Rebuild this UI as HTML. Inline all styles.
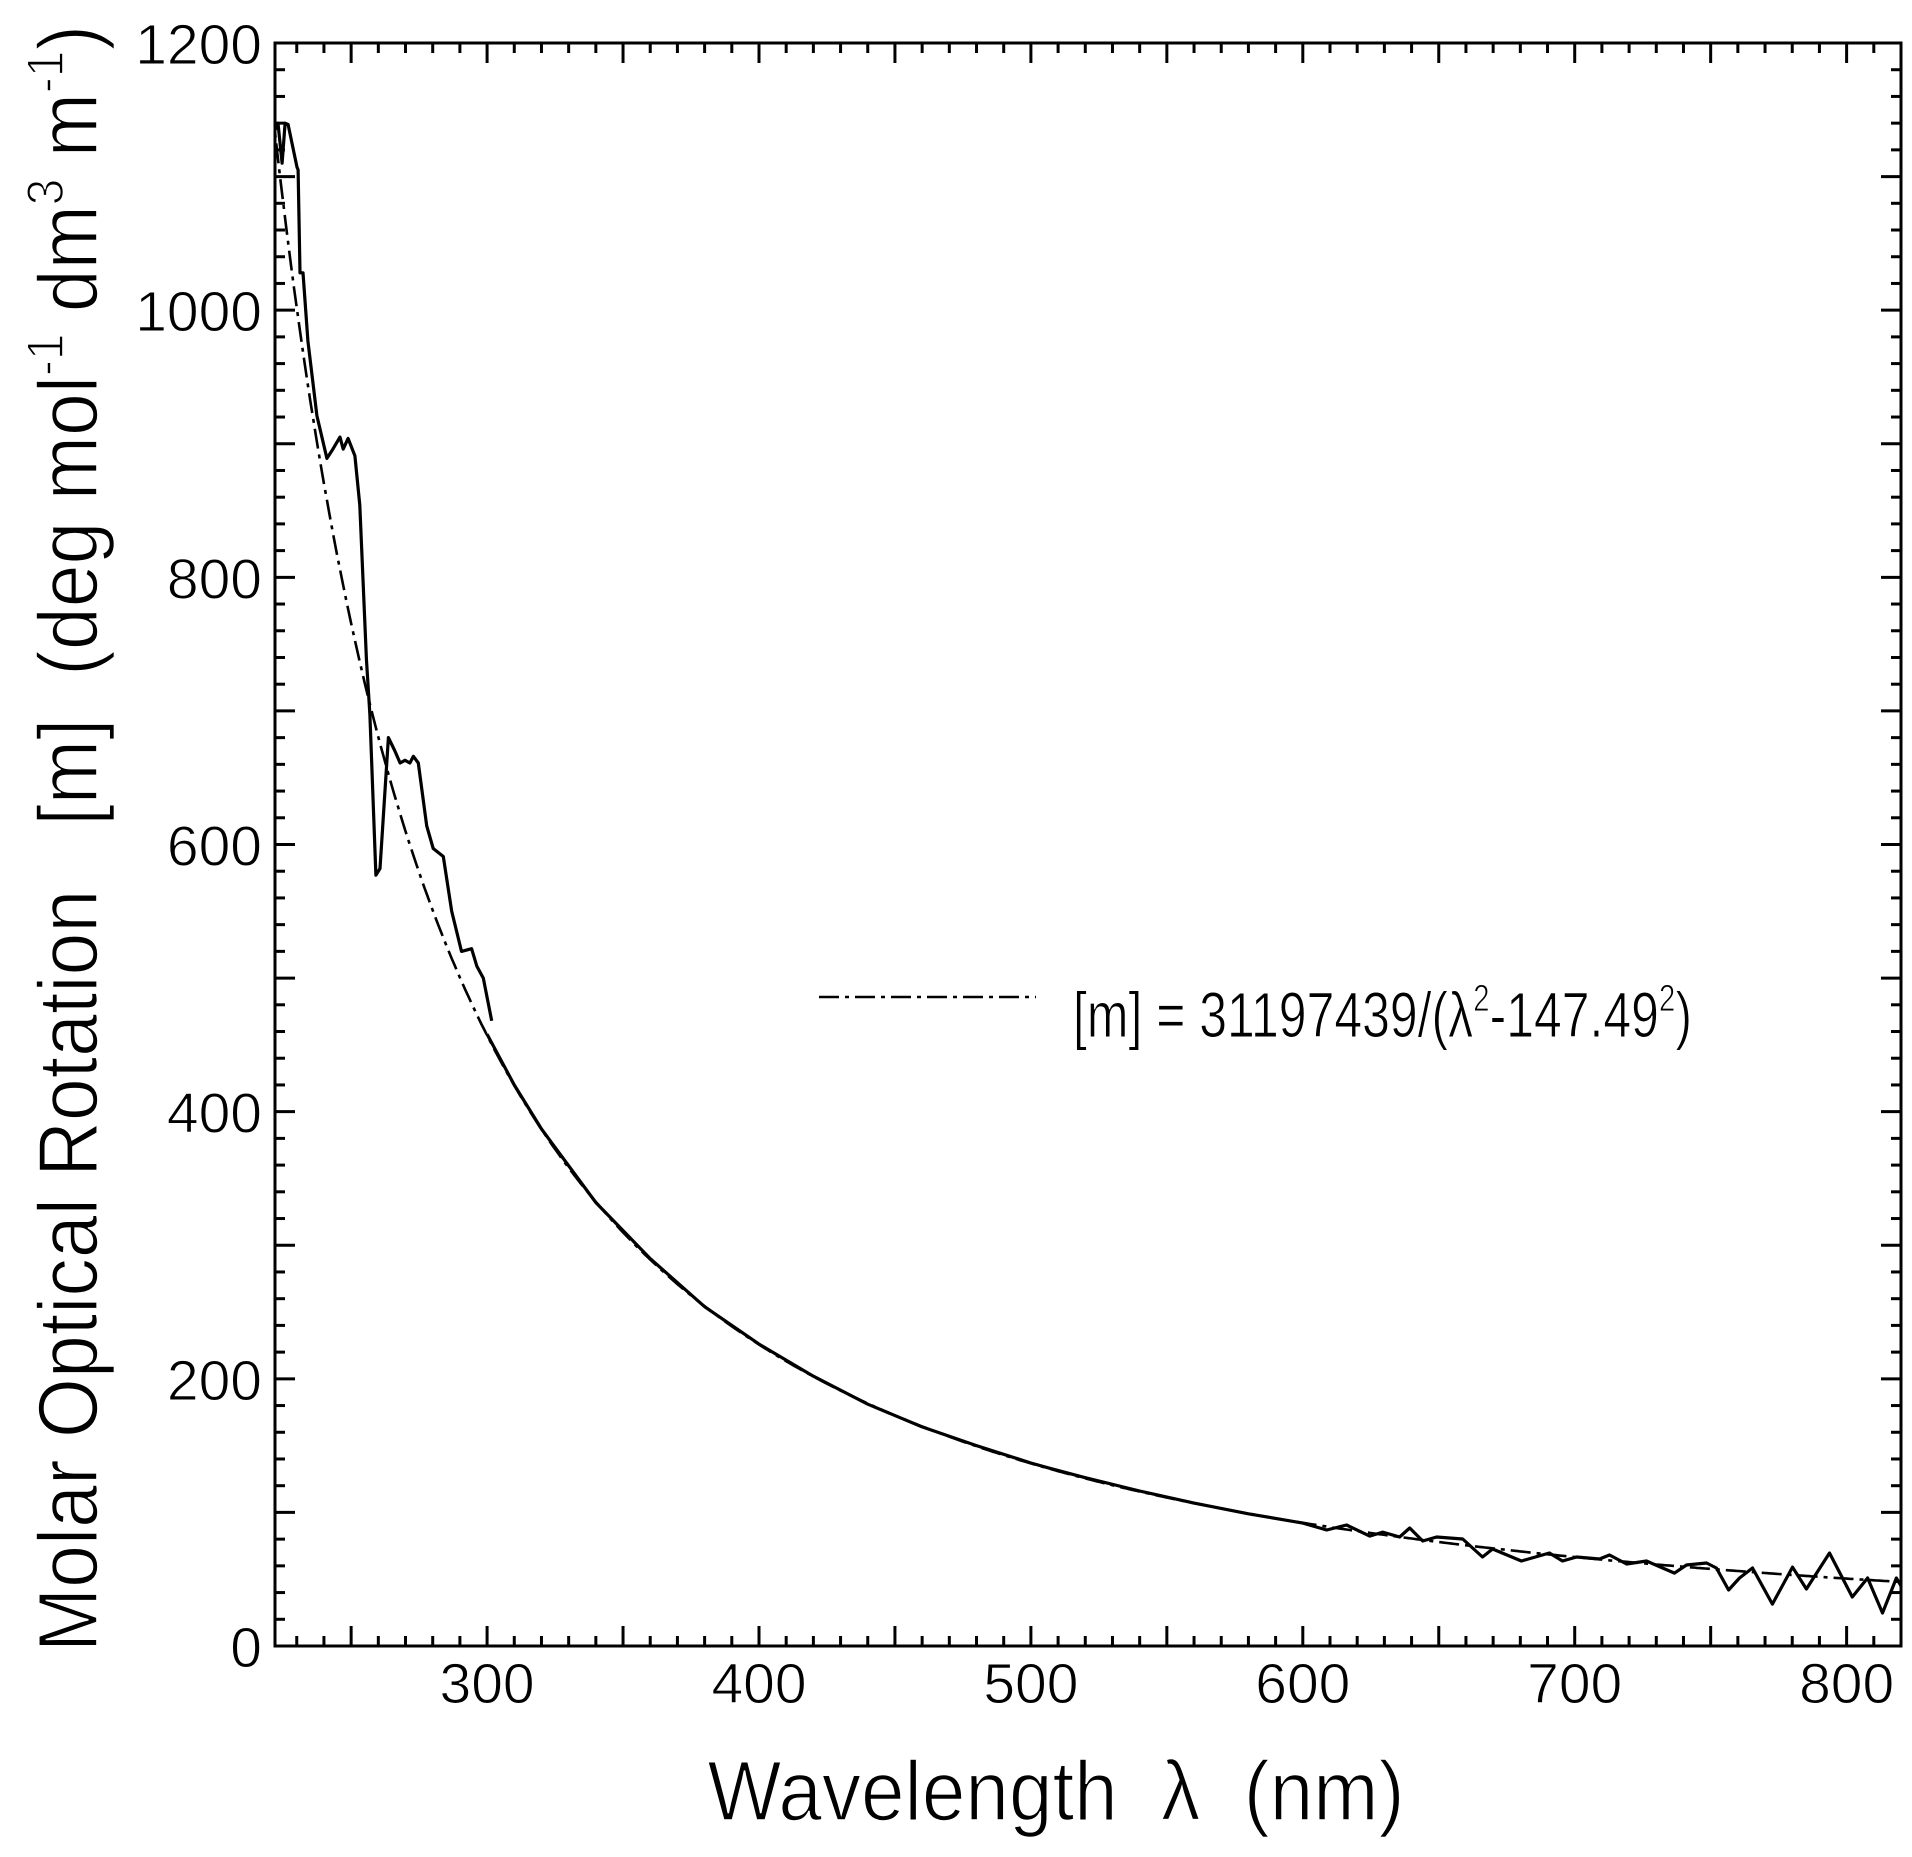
<!DOCTYPE html>
<html><head><meta charset="utf-8"><style>
html,body{margin:0;padding:0;background:#fff;}
svg{display:block;}
text{font-family:"Liberation Sans",sans-serif;fill:#000;}
.thin{stroke:#fff;stroke-width:1.6;}
.thin2{stroke:#fff;stroke-width:1.0;}
</style></head><body>
<svg id="chart" width="1912" height="1857" viewBox="0 0 1912 1857" xmlns="http://www.w3.org/2000/svg">
<rect x="0" y="0" width="1912" height="1857" fill="#fff"/>
<g id="ticks"></g>
<g id="series"></g>
<rect x="275" y="43" width="1626" height="1603" fill="none" stroke="#000" stroke-width="3"/>
<g id="labels"></g>
<text class="thin" x="1056" y="1820" font-size="84" text-anchor="middle" textLength="697" lengthAdjust="spacingAndGlyphs" xml:space="preserve">Wavelength  λ  (nm)</text>
<text class="thin" transform="translate(97,1652) rotate(-90)" font-size="84" textLength="1627" lengthAdjust="spacingAndGlyphs" xml:space="preserve">Molar Optical Rotation   [m]  (deg mol<tspan font-size="52" dy="-34">-1</tspan><tspan dy="34"> dm</tspan><tspan font-size="52" dy="-34">3</tspan><tspan dy="34"> m</tspan><tspan font-size="52" dy="-34">-1</tspan><tspan dy="34">)</tspan></text>
<g>
<line x1="819" y1="997" x2="1036" y2="997" stroke="#000" stroke-width="2.6" stroke-dasharray="20,6,4,6"/>
<text class="thin2" x="1073" y="1037" font-size="64" textLength="619" lengthAdjust="spacingAndGlyphs">[m] = 31197439/(λ<tspan font-size="38" dy="-26">2</tspan><tspan dy="26">-147.49</tspan><tspan font-size="38" dy="-26">2</tspan><tspan dy="26">)</tspan></text>
</g>
</svg>
<script>
const wavelengths = [222.5,223.1,224.6,225.7,226.8,230.1,230.5,231.2,232.3,234.1,237.4,241.1,243.0,245.9,247.1,248.9,251.4,253.2,255.6,256.9,259.1,260.6,263.7,266.1,268.0,269.8,271.6,272.9,274.7,277.8,280.2,283.9,287.0,290.6,294.3,296.2,298.6,301.7];
const rotations = [1135,1140,1110,1140,1139,1107,1105,1028,1028,977,921,889,895,905,896,904,891,854,739,697,577,582,680,670,661,663,661,666,661,614,597,591,550,520,522,509,500,468];
const wavelengths2 = [300,310,320,340,360,380,400,420,440,460,480,500,507,520,540,560,580,600,608.8,616.1,624.6,629.4,635.6,639.3,644.1,649.2,658.8,666.1,669.8,680.4,690.7,695.5,700.7,709.1,712.8,719.1,726.4,736.7,741.1,748.5,752.1,756.6,760.6,765.4,772.7,780.1,785.2,793.7,802.1,807.7,813.2,818.3,820];
const rotations2 = [458,420,387,332,290,254,226,202,181,164,150,137,133,126,116,107,99,92,86.8,90.6,82.3,85.3,81.6,88.3,78.6,81.6,80.1,66.6,72.6,63.6,69.6,63.6,66.6,65.1,68.1,61.4,63.6,54.6,60.6,62.1,58.4,41.9,50.9,58.4,31.4,59.1,42.7,69.6,36.7,50.9,24.7,50.9,45];
const fitA = 31197439;
const fitB = 147.49;
const yTickLabels = ["0","200","400","600","800","1000","1200"];
const xTickLabels = ["300","400","500","600","700","800"];
const X0=222, X1=820, Y0=0, Y1=1200;
const L=275, R=1901, T=43, B=1646;
function sx(v){return L+(v-X0)/(X1-X0)*(R-L);}
function sy(v){return B-(v-Y0)/(Y1-Y0)*(B-T);}
const NS="http://www.w3.org/2000/svg";
const ticks=document.getElementById('ticks');
const labels=document.getElementById('labels');
const series=document.getElementById('series');
function mk(tag,attrs,parent){const e=document.createElementNS(NS,tag);for(const k in attrs)e.setAttribute(k,attrs[k]);parent.appendChild(e);return e;}
for(let v=230; v<=X1; v+=10){
  const major=(v%50===0);const len=major?20:10;const x=sx(v);
  let t=mk('line',{x1:x,x2:x,y1:B,y2:B-len,stroke:'#000','stroke-width':3},ticks);
  
  
  t=mk('line',{x1:x,x2:x,y1:T,y2:T+len,stroke:'#000','stroke-width':3},ticks);
  
  
}
for(let v=20; v<Y1; v+=20){
  const major=(v%100===0);const len=major?20:10;const y=sy(v);
  let t=mk('line',{x1:L,x2:L+len,y1:y,y2:y,stroke:'#000','stroke-width':3},ticks);
  
  
  t=mk('line',{x1:R,x2:R-len,y1:y,y2:y,stroke:'#000','stroke-width':3},ticks);
  
  
}
yTickLabels.forEach(s=>{
  const t=mk('text',{x:262,y:sy(+s)+21,'font-size':57,'text-anchor':'end','class':'thin2'},labels);
  t.textContent=s;
  
  
});
xTickLabels.forEach(s=>{
  const t=mk('text',{x:sx(+s),y:1703,'font-size':57,'text-anchor':'middle','class':'thin2'},labels);
  t.textContent=s;
  
  
});
let fd='';
for(let v=X0-1; v<=X1; v+=1){const m=fitA/(v*v-fitB*fitB);fd+=(fd?'L':'M')+sx(Math.max(v,X0)).toFixed(1)+','+sy(Math.min(m,Y1)).toFixed(1);}
const fit=mk('path',{d:fd,fill:'none',stroke:'#000','stroke-width':2.6,'stroke-dasharray':'20,6,4,6'},series);


function line(xs,ys,name){
  let d='';xs.forEach((v,i)=>{d+=(i?'L':'M')+sx(v).toFixed(1)+','+sy(ys[i]).toFixed(1);});
  const p=mk('path',{d:d,fill:'none',stroke:'#000','stroke-width':3.2,'stroke-linejoin':'round'},series);
  
  
}
line(wavelengths,rotations,'measured-uv-curve');
line(wavelengths2,rotations2,'measured-visible-curve');
</script>
</body></html>
